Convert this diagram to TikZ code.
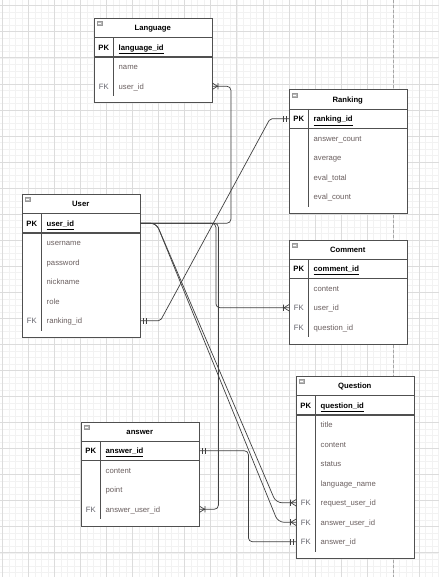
\documentclass[tikz,border=0pt]{standalone}
\usepackage{fontspec}
\setmainfont{Liberation Sans}
\usetikzlibrary{decorations.markings}

\definecolor{gridminor}{HTML}{F2F2F2}
\definecolor{gridmajor}{HTML}{DCDCDC}
\definecolor{frameline}{HTML}{505050}
\definecolor{connline}{HTML}{404040}
\definecolor{fieldtext}{HTML}{6A5F5F}
\definecolor{keytext}{HTML}{62626B}

\tikzset{
  erfont/.style={font=\fontsize{7.7}{9}\selectfont, inner sep=0, text height=6.8, text depth=0.4},
  tablebox/.style={draw=frameline, line width=0.9, fill=white, minimum width=117.5, inner sep=0, anchor=north west},
  titletxt/.style={erfont, font=\fontsize{7.7}{9}\selectfont\bfseries},
  pkkey/.style={erfont, font=\fontsize{7.7}{9}\selectfont\bfseries},
  pkfield/.style={erfont, font=\fontsize{7.7}{9}\selectfont\bfseries, anchor=west},
  keytxt/.style={erfont, text=keytext},
  fieldtxt/.style={erfont, text=fieldtext, anchor=west},
  conn/.style={draw=connline, line width=0.7},
  manyend/.style={postaction={decorate, decoration={markings, mark=at position 1 with {\draw[conn] (-5,0) -- (0,3.2) (-5,0) -- (0,-3.2) (-5.5,3.2) -- (-5.5,-3.2);}}}},
  oneend/.style={postaction={decorate, decoration={markings, mark=at position 1 with {\draw[conn] (-3,3.2) -- (-3,-3.2) (-5.5,3.2) -- (-5.5,-3.2);}}}},
  onestart/.style={postaction={decorate, decoration={markings, mark=at position 0 with {\draw[conn] (3,3.2) -- (3,-3.2) (5.5,3.2) -- (5.5,-3.2);}}}}
}

\begin{document}
\begin{tikzpicture}[x=1pt,y=-1pt]
    \fill[white] (0,0) rectangle (439,577);
    \useasboundingbox (0,0) rectangle (439,577);
    % background grid
    \foreach \i in {0,...,67} \draw[gridminor, line width=0.5] (2.3+6.5125*\i,0) -- ++(0,577);
    \foreach \j in {0,...,87} \draw[gridminor, line width=0.5] (0,5.7+6.5125*\j) -- ++(439,0);
    \foreach \i in {0,...,16} \draw[gridmajor, line width=0.6] (2.3+26.05*\i,0) -- ++(0,577);
    \foreach \j in {0,...,21} \draw[gridmajor, line width=0.6] (0,5.7+26.05*\j) -- ++(439,0);
    \draw[gray!70, line width=0.7, dash pattern=on 3pt off 2pt] (393,0) -- (393,577);

    % tables
    \foreach \tname/\tx/\ty/\th/\ttitle in {language/94/18/84.5/Language, ranking/289/89.5/123.5/Ranking, user/22/194/143/User, comment/289/239.5/104/Comment, answer/81/421.5/104/answer, question/296/376/182/Question} {
        \node[tablebox, minimum height=\th] (\tname) at (\tx,\ty) {};
        \node[titletxt] (\tname-title) at (\tx+58.75,\ty+9.75) {\ttitle};
        \filldraw[fill=gray!55, draw=gray!80, line width=0.4] (\tx+3.5,\ty+3.5) rectangle ++(4.5,4);
        \draw[white, line width=0.5] (\tx+4.3,\ty+5.5) -- ++(2.9,0);
        \draw[frameline, line width=0.9] (\tx,\ty+19.5) -- ++(117.5,0);
        \draw[frameline, line width=1.4] (\tx,\ty+39) -- ++(117.5,0);
        \draw[frameline, line width=0.9] (\tx+19.5,\ty+19.5) -- (\tx+19.5,\ty+\th-6.5);
    }
    \foreach \tname/\tx/\ty/\pk in {language/94/18/language\_id, ranking/289/89.5/ranking\_id, user/22/194/user\_id, comment/289/239.5/comment\_id, answer/81/421.5/answer\_id, question/296/376/question\_id} {
        \node[pkkey] (\tname-pkkey) at (\tx+9.75,\ty+29.25) {PK};
        \node[pkfield] (\tname-0) at (\tx+24.5,\ty+29.25) {\underline{\pk}};
    }
    \foreach \k/\f [count=\i] in {/name, FK/user\_id} {
        \node[keytxt] (language-k\i) at (103.75,47.25+19.5*\i) {\k};
        \node[fieldtxt] (language-\i) at (118.5,47.25+19.5*\i) {\f};
    }
    \foreach \k/\f [count=\i] in {/answer\_count, /average, /eval\_total, /eval\_count} {
        \node[keytxt] (ranking-k\i) at (298.75,118.75+19.5*\i) {\k};
        \node[fieldtxt] (ranking-\i) at (313.5,118.75+19.5*\i) {\f};
    }
    \foreach \k/\f [count=\i] in {/username, /password, /nickname, /role, FK/ranking\_id} {
        \node[keytxt] (user-k\i) at (31.75,223.25+19.5*\i) {\k};
        \node[fieldtxt] (user-\i) at (46.5,223.25+19.5*\i) {\f};
    }
    \foreach \k/\f [count=\i] in {/content, FK/user\_id, FK/question\_id} {
        \node[keytxt] (comment-k\i) at (298.75,268.75+19.5*\i) {\k};
        \node[fieldtxt] (comment-\i) at (313.5,268.75+19.5*\i) {\f};
    }
    \foreach \k/\f [count=\i] in {/content, /point, FK/answer\_user\_id} {
        \node[keytxt] (answer-k\i) at (90.75,450.75+19.5*\i) {\k};
        \node[fieldtxt] (answer-\i) at (105.5,450.75+19.5*\i) {\f};
    }
    \foreach \k/\f [count=\i] in {/title, /content, /status, /language\_name, FK/request\_user\_id, FK/answer\_user\_id, FK/answer\_id} {
        \node[keytxt] (question-k\i) at (305.75,405.25+19.5*\i) {\k};
        \node[fieldtxt] (question-\i) at (320.5,405.25+19.5*\i) {\f};
    }

    % relations
    \draw[conn, rounded corners=4, manyend] (user.east |- user-0) -- ++(90.5,0) |- (language.east |- language-2);
    \draw[conn, rounded corners=2, onestart, oneend] (user.east |- user-5) -- ++(20,0) -- ([xshift=-19]ranking.west |- ranking-0) -- (ranking.west |- ranking-0);
    \draw[conn, rounded corners=4, manyend] (user.east |- user-0) -- ++(75.5,0) |- (comment.west |- comment-2);
    \draw[conn, rounded corners=4, manyend] (user.east |- user-0) -- ++(78,0) |- (answer.east |- answer-3);
    \draw[conn, rounded corners=6, manyend] (user.east |- user-0) -- ++(16,0) -- ([xshift=-20]question.west |- question-5) -- (question.west |- question-5);
    \draw[conn, rounded corners=6, manyend] (user.east |- user-0) -- ++(16,0) -- ([xshift=-18]question.west |- question-6) -- (question.west |- question-6);
    \draw[conn, rounded corners=4, onestart, oneend] (answer.east |- answer-0) -- ++(49,0) |- (question.west |- question-7);
\end{tikzpicture}
\end{document}
